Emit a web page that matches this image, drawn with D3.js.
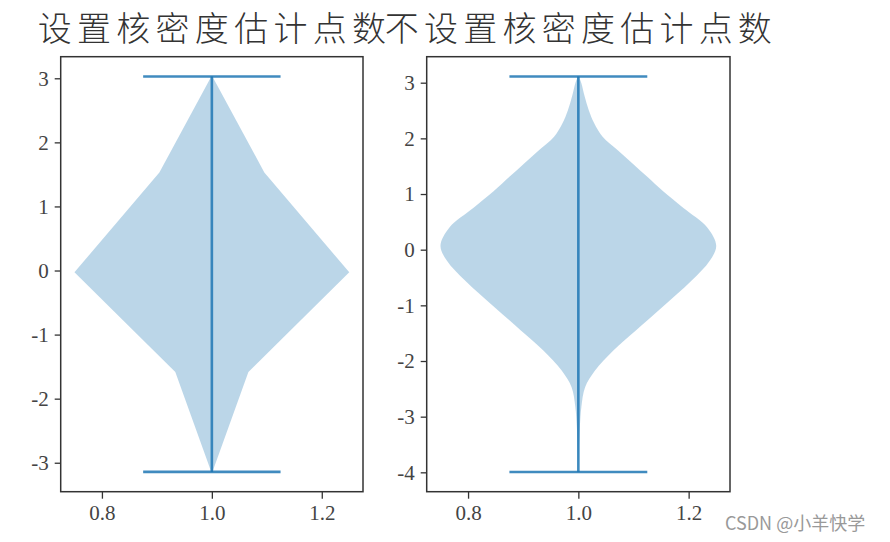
<!DOCTYPE html>
<html>
<head>
<meta charset="utf-8">
<script src="https://cdn.jsdelivr.net/npm/d3@7"></script>
<style>
  body { margin: 0; background: #fff; }
</style>
</head>
<body>
<div id="chart"></div>
<script>
const width = 890
const height = 542

// chart values
const positions = [1.0]
const titles = ['设置核密度估计点数', '不设置核密度估计点数']
const xTicks = [0.8, 1.0, 1.2]
const leftYTicks = [-3, -2, -1, 0, 1, 2, 3]
const rightYTicks = [-4, -3, -2, -1, 0, 1, 2, 3]

// left violin: kde evaluated at 5 points
const leftExtrema = [-3.143, 3.028]
const leftKdeY = [-3.143, -1.585, -0.028, 1.530, 3.028]
const leftKdeDensity = [0.004, 0.266, 1.0, 0.382, 0.004]

// right violin: default kde (smooth)
const rightExtrema = [-3.993, 3.112]
const rightKdeY = [-3.993, -3.6, -3.18, -2.82, -2.47, -2.17, -1.81, -1.45, -1.03, -0.56, -0.2,
  0.07, 0.40, 0.755, 1.05, 1.31, 1.55, 1.79, 2.03, 2.27, 2.51, 2.75, 2.99, 3.112]
const rightKdeDensity = [0, 0.004, 0.011, 0.022, 0.049, 0.121, 0.254, 0.417, 0.61, 0.82, 0.953,
  1.0, 0.935, 0.76, 0.615, 0.50, 0.393, 0.284, 0.176, 0.115, 0.075, 0.046, 0.022, 0.004]

const violinWidth = 0.5
const blue = '#1f77b4'

const svg = d3.select('#chart')
  .append('svg')
  .attr('width', width)
  .attr('height', height)
  .style('font-family', '"Liberation Serif", serif')

const panels = [
  {
    title: titles[0],
    left: 60.7, right: 363,
    yDomain: [-3.452, 3.337],
    yTicks: leftYTicks,
    extrema: leftExtrema,
    kdeY: leftKdeY, kdeD: leftKdeDensity,
    curve: d3.curveLinear
  },
  {
    title: titles[1],
    left: 426.7, right: 730,
    yDomain: [-4.348, 3.467],
    yTicks: rightYTicks,
    extrema: rightExtrema,
    kdeY: rightKdeY, kdeD: rightKdeDensity,
    curve: d3.curveCatmullRom
  }
]
const plotTop = 56.7
const plotBottom = 491.7

panels.forEach(p => {
  const x = d3.scaleLinear().domain([0.725, 1.275]).range([p.left, p.right])
  const y = d3.scaleLinear().domain(p.yDomain).range([plotBottom, plotTop])
  const g = svg.append('g')

  // violin body
  const maxD = d3.max(p.kdeD)
  const pts = p.kdeY.map((v, i) => ({v, d: p.kdeD[i] / maxD * violinWidth / 2}))
  positions.forEach(pos => {
    const area = d3.area()
      .curve(p.curve)
      .y(d => y(d.v))
      .x0(d => x(pos - d.d))
      .x1(d => x(pos + d.d))
    g.append('path')
      .datum(pts)
      .attr('d', area)
      .attr('fill', blue)
      .attr('fill-opacity', 0.3)

    // bars, maxes, mins
    const lines = [
      [pos, p.extrema[0], pos, p.extrema[1]],
      [pos - violinWidth / 4, p.extrema[1], pos + violinWidth / 4, p.extrema[1]],
      [pos - violinWidth / 4, p.extrema[0], pos + violinWidth / 4, p.extrema[0]]
    ]
    g.selectAll(null)
      .data(lines)
      .join('line')
      .attr('x1', d => x(d[0]))
      .attr('y1', d => y(d[1]))
      .attr('x2', d => x(d[2]))
      .attr('y2', d => y(d[3]))
      .attr('stroke', blue)
      .attr('stroke-opacity', 0.85)
      .attr('stroke-width', 2.6)
  })

  // axes
  const xAxis = d3.axisBottom(x).tickValues(xTicks).tickFormat(d3.format('.1f'))
    .tickSizeInner(7).tickSizeOuter(0).tickPadding(6)
  const yAxis = d3.axisLeft(y).tickValues(p.yTicks).tickFormat(d => String(d))
    .tickSizeInner(6).tickSizeOuter(0).tickPadding(6)

  const gx = g.append('g').attr('transform', `translate(0,${plotBottom})`).call(xAxis)
  const gy = g.append('g').attr('transform', `translate(${p.left},0)`).call(yAxis)
  ;[gx, gy].forEach(a => {
    a.select('.domain').remove()
    a.selectAll('.tick line').attr('stroke', '#333').attr('stroke-width', 1.3)
    a.selectAll('.tick text')
      .attr('fill', '#444')
      .style('font-size', '21px')
      .style('font-family', '"Liberation Serif", serif')
  })

  // frame
  g.append('rect')
    .attr('x', p.left)
    .attr('y', plotTop)
    .attr('width', p.right - p.left)
    .attr('height', plotBottom - plotTop)
    .attr('fill', 'none')
    .attr('stroke', '#333')
    .attr('stroke-width', 1.5)

  // title
  g.append('text')
    .attr('x', (p.left + p.right) / 2)
    .attr('y', 41)
    .attr('text-anchor', 'middle')
    .attr('fill', '#333')
    .attr('textLength', p.title.length * 38.7)
    .attr('lengthAdjust', 'spacing')
    .style('font-family', '"Noto Sans CJK SC", sans-serif')
    .style('font-weight', 300)
    .style('font-size', '34px')
    .text(p.title)
})

// watermark
svg.append('text')
  .attr('x', 725)
  .attr('y', 530)
  .attr('fill', '#999')
  .style('font-family', '"Noto Sans CJK SC", sans-serif')
  .style('font-size', '18px')
  .text('CSDN @小羊快学')
</script>
</body>
</html>
